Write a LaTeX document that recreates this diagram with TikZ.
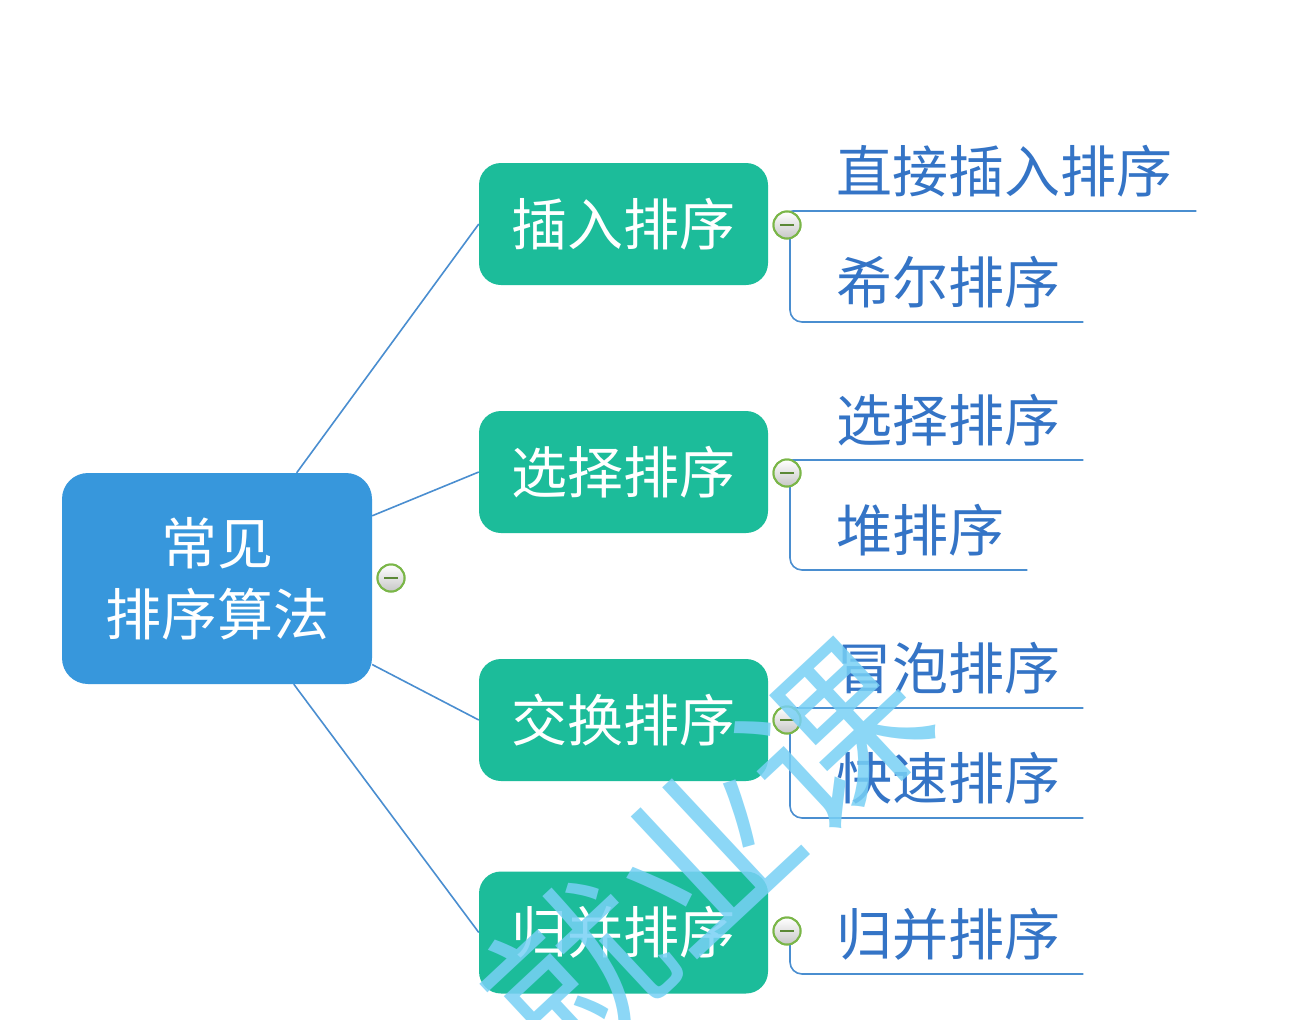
\documentclass[tikz,border=0pt]{standalone}
\usepackage{fontspec}
\setmainfont{Noto Sans CJK SC}
\usetikzlibrary{shapes.geometric}
\definecolor{rootblue}{HTML}{3797DC}
\definecolor{boxgreen}{HTML}{1CBC9A}
\definecolor{linkblue}{HTML}{4A8ED0}
\definecolor{kidtext}{HTML}{3474C6}
\definecolor{ringgreen}{HTML}{7AB648}
\definecolor{wmblue}{RGB}{120,208,245}
\tikzset{
  rootbox/.style={draw=none,fill=rootblue,rounded corners=26pt,minimum width=310pt,minimum height=211pt,
    text=white,align=center,font=\fontsize{56}{71}\selectfont,inner sep=0pt},
  branchbox/.style={draw=none,fill=boxgreen,rounded corners=22pt,minimum width=289pt,minimum height=122pt,
    text=white,font=\fontsize{56}{60}\selectfont,inner sep=0pt},
  kid/.style={anchor=south west,inner sep=0pt,text height=41pt,text depth=18pt,align=left,
    text=kidtext,font=\fontsize{56}{60}\selectfont},
  conn/.style={draw=linkblue,line width=1.6pt},
  knob/.style={circle,draw=ringgreen,line width=2pt,minimum size=27pt,inner sep=0pt,
    top color=white,bottom color=black!22},
  knobbar/.style={draw=ringgreen!75!black,line width=2.6pt}
}
\begin{document}
\begin{tikzpicture}[x=1pt,y=-1pt]
\useasboundingbox (0,0) rectangle (1299,1020);
\fill[white] (0,0) rectangle (1299,1020);

% root and branches
\node[rootbox] (root) at (217,578.5) {常见\\排序算法};
\node[branchbox] (b1) at (623.5,224) {插入排序};
\node[branchbox] (b2) at (623.5,472) {选择排序};
\node[branchbox] (b3) at (623.5,720) {交换排序};
\node[branchbox] (b4) at (623.5,932.5) {归并排序};

\draw[conn] (root.53) -- (b1.west);
\draw[conn] (root.22) -- (b2.west);
\draw[conn] (root.-29) -- (b3.west);
\draw[conn] (root.-54) -- (b4.west);

% leaves
\node[kid,text width=360pt] (c1) at (836,211) {直接插入排序};
\node[kid,text width=247pt] (c2) at (836,322) {希尔排序};
\node[kid,text width=247pt] (c3) at (836,460) {选择排序};
\node[kid,text width=191pt] (c4) at (836,570) {堆排序};
\node[kid,text width=247pt] (c5) at (836,708) {冒泡排序};
\node[kid,text width=247pt] (c6) at (836,818) {快速排序};
\node[kid,text width=247pt] (c7) at (836,974) {归并排序};

% collapse knobs
\node[knob] (k0) at (391,578) {};
\node[knob] (k1) at (787,225) {};
\node[knob] (k2) at (787,473) {};
\node[knob] (k3) at (787,720) {};
\node[knob] (k4) at (787,931) {};

% leaf connectors
\draw[conn,rounded corners=6pt] (k1.center) |- (c1.south east);
\draw[conn,rounded corners=12pt] ([xshift=3pt]k1.center) |- (c2.south east);
\draw[conn,rounded corners=6pt] (k2.center) |- (c3.south east);
\draw[conn,rounded corners=12pt] ([xshift=3pt]k2.center) |- (c4.south east);
\draw[conn,rounded corners=6pt] (k3.center) |- (c5.south east);
\draw[conn,rounded corners=12pt] ([xshift=3pt]k3.center) |- (c6.south east);
\draw[conn,rounded corners=12pt] ([xshift=3pt]k4.center) |- (c7.south east);

% redraw knobs on top of connectors
\foreach \k in {k0,k1,k2,k3,k4}{
  \node[knob] at (\k.center) {};
  \draw[knobbar] ([xshift=-7pt]\k.center) -- ([xshift=7pt]\k.center);
}

% watermark
\node[rotate=43,text=wmblue,opacity=0.85,font=\fontsize{175}{175}\selectfont,inner sep=0pt] (wm) at (705,855) {就业课};
\end{tikzpicture}
\end{document}
